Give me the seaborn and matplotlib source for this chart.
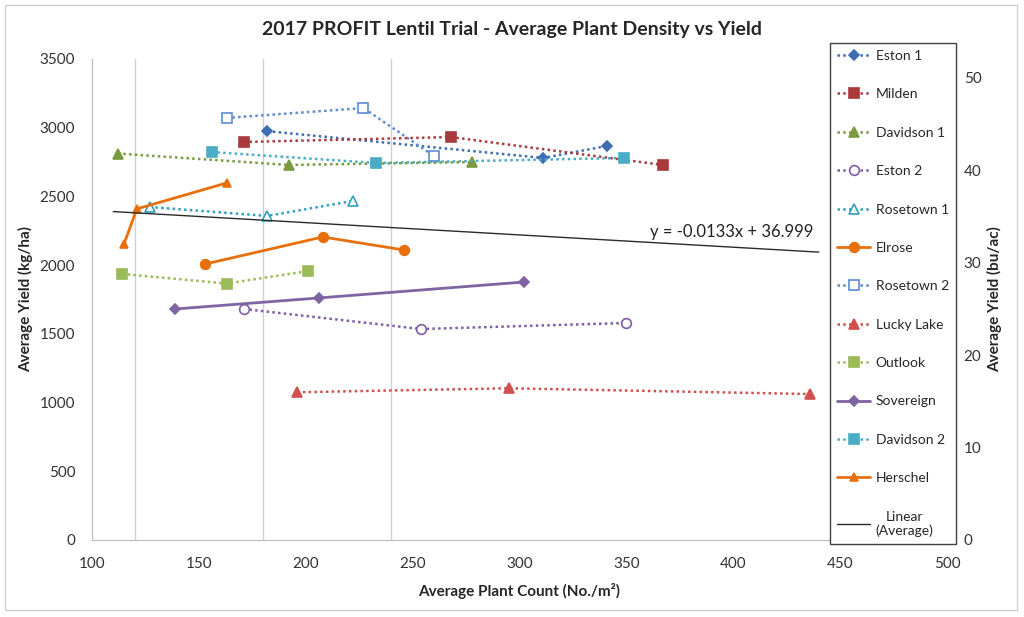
import pandas as pd
import seaborn as sns
import matplotlib.pyplot as plt
from matplotlib.patches import Rectangle

sns.set_style("white")
plt.rcParams['font.family'] = ['Lato', 'DejaVu Sans']

# plant count (No./m2) and yield (kg/ha)
sites = ["Eston 1", "Milden", "Davidson 1", "Eston 2", "Rosetown 1", "Elrose",
         "Rosetown 2", "Lucky Lake", "Outlook", "Sovereign", "Davidson 2", "Herschel"]
counts = {
    "Eston 1": [182, 311, 341],
    "Milden": [171, 268, 367],
    "Davidson 1": [112, 192, 278],
    "Eston 2": [171, 254, 350],
    "Rosetown 1": [127, 182, 222],
    "Elrose": [153, 208, 246],
    "Rosetown 2": [163, 227, 260],
    "Lucky Lake": [196, 295, 436],
    "Outlook": [114, 163, 201],
    "Sovereign": [139, 206, 302],
    "Davidson 2": [156, 233, 349],
    "Herschel": [115, 121, 163],
}
yields = {
    "Eston 1": [2975, 2780, 2867],
    "Milden": [2896, 2932, 2729],
    "Davidson 1": [2812, 2729, 2750],
    "Eston 2": [1681, 1535, 1579],
    "Rosetown 1": [2423, 2358, 2467],
    "Elrose": [2008, 2205, 2110],
    "Rosetown 2": [3071, 3143, 2794],
    "Lucky Lake": [1075, 1104, 1062],
    "Outlook": [1936, 1866, 1957],
    "Sovereign": [1681, 1761, 1877],
    "Davidson 2": [2823, 2743, 2780],
    "Herschel": [2154, 2409, 2598],
}
# linear trend of the average, in bu/ac
trend_slope = -0.0133
trend_intercept = 36.999
trend_x = [110, 440]
kg_per_bu = 67.25

style = {
    "Eston 1": ("#3F6DB3", "D", 5, True, ":"),
    "Milden": ("#A83A3C", "s", 7, True, ":"),
    "Davidson 1": ("#7A9A3E", "^", 7, True, ":"),
    "Eston 2": ("#7E5DA8", "o", 7, False, ":"),
    "Rosetown 1": ("#31A0BD", "^", 7, False, ":"),
    "Elrose": ("#E8700C", "o", 7, True, "-"),
    "Rosetown 2": ("#5B8BD0", "s", 7, False, ":"),
    "Lucky Lake": ("#D0504E", "^", 7, True, ":"),
    "Outlook": ("#9BBB59", "s", 7, True, ":"),
    "Sovereign": ("#8064A2", "D", 5, True, "-"),
    "Davidson 2": ("#4BACC6", "s", 7, True, ":"),
    "Herschel": ("#E8700C", "^", 6, True, "-"),
}

rows = []
for s in sites:
    for x, y in zip(counts[s], yields[s]):
        rows.append({"site": s, "count": x, "yield": y})
df = pd.DataFrame(rows)

fig = plt.figure(figsize=(10.24, 6.17), dpi=100)
ax = fig.add_axes([0.0898, 0.1248, 0.835, 0.7796])
ax2 = ax.twinx()

for s in sites:
    c, m, ms, filled, ls = style[s]
    sub = df[df.site == s]
    kw = dict(linestyle=ls, linewidth=2 if ls == "-" else 1.8)
    if ls == ":":
        kw["linestyle"] = (0, (1, 1.3))
    sns.lineplot(data=sub, x="count", y="yield", ax=ax, color=c, marker=m,
                 markersize=ms, markeredgecolor=c,
                 markerfacecolor=c if filled else "white",
                 markeredgewidth=1.2, sort=False, label=s, **kw)

trend = pd.DataFrame({"x": trend_x,
                      "y": [trend_slope * v + trend_intercept for v in trend_x]})
sns.lineplot(data=trend, x="x", y="y", ax=ax2, color="#2b2b2b", linewidth=1,
             label="Linear\n(Average)")
ax2.text(361, 33.3, "y = -0.0133x + 36.999", fontsize=12, color="#222222",
         va="center")

for gx in [120, 180, 240]:
    ax.axvline(gx, color="#d0d0d0", lw=1, zorder=0)

ax.set_xlim(100, 500)
ax.set_ylim(0, 3500)
ax2.set_ylim(0, 3500 / kg_per_bu)
ax.set_xticks(range(100, 501, 50))
ax.set_yticks(range(0, 3501, 500))
ax2.set_yticks(range(0, 51, 10))

ax.set_xlabel("Average Plant Count (No./m²)", fontsize=11, fontweight="bold", labelpad=9)
ax.set_ylabel("Average Yield (kg/ha)", fontsize=11, fontweight="bold", labelpad=5)
ax2.set_ylabel("Average Yield (bu/ac)", fontsize=11, fontweight="bold", labelpad=4)
ax.tick_params(axis="both", labelsize=11, length=0, colors="#333333")
ax2.tick_params(axis="y", labelsize=11, length=5, direction="out", color="#999999",
                colors="#333333")
ax.tick_params(axis="x", pad=12)
ax.tick_params(axis="y", pad=12)
ax2.tick_params(axis="y", pad=7)

for a in (ax, ax2):
    a.spines["top"].set_visible(False)
    for sp in ("left", "bottom", "right"):
        a.spines[sp].set_color("#bfbfbf")

h1, l1 = ax.get_legend_handles_labels()
h2, l2 = ax2.get_legend_handles_labels()
ax.get_legend().remove()
ax2.get_legend().remove()
leg = ax2.legend(h1 + h2, l1 + l2, loc="upper left",
                 bbox_to_anchor=(0.8105, 0.9303), bbox_transform=fig.transFigure,
                 fontsize=10, labelspacing=1.9, handlelength=2.4, handletextpad=0.4,
                 borderpad=0.5, fancybox=False, framealpha=1, borderaxespad=0)
leg.get_frame().set_edgecolor("#404040")
leg.get_frame().set_linewidth(1)
for t in leg.get_texts():
    t.set_multialignment("center")

fig.suptitle("2017 PROFIT Lentil Trial - Average Plant Density vs Yield",
             fontsize=14, fontweight="bold", y=0.966)
fig.patches.append(Rectangle((0.005, 0.012), 0.988, 0.98, transform=fig.transFigure,
                             fill=False, edgecolor="#d0d0d0", lw=1))

fig.savefig("out.png", dpi=100)
